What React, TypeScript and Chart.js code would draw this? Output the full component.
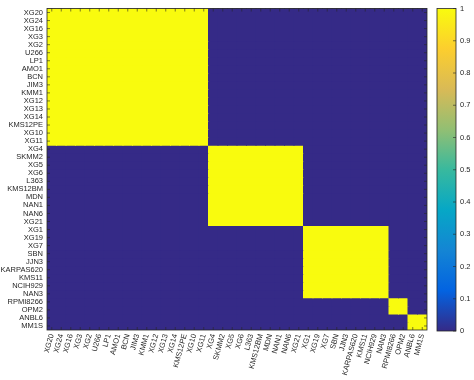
import React, { useEffect, useRef } from "react";
import { Chart, registerables } from "chart.js";

Chart.register(...registerables);

// Sample names (rows and columns, top-to-bottom / left-to-right)
const samples: string[] = [
  "XG20", "XG24", "XG16", "XG3", "XG2", "U266", "LP1", "AMO1", "BCN", "JIM3",
  "KMM1", "XG12", "XG13", "XG14", "KMS12PE", "XG10", "XG11",
  "XG4", "SKMM2", "XG5", "XG6", "L363", "KMS12BM", "MDN", "NAN1", "NAN6", "XG21",
  "XG1", "XG19", "XG7", "SBN", "JJN3", "KARPAS620", "KMS11", "NCIH929", "NAN3",
  "RPMI8266", "OPM2",
  "ANBL6", "MM1S",
];

// Cluster membership of each sample (consensus = 1 within a cluster, 0 otherwise)
const clusters: number[] = [
  1, 1, 1, 1, 1, 1, 1, 1, 1, 1, 1, 1, 1, 1, 1, 1, 1,
  2, 2, 2, 2, 2, 2, 2, 2, 2, 2,
  3, 3, 3, 3, 3, 3, 3, 3, 3,
  4, 4,
  5, 5,
];

// Colour bar ticks
const colorbarTicks: number[] = [0, 0.1, 0.2, 0.3, 0.4, 0.5, 0.6, 0.7, 0.8, 0.9, 1];

// Parula-like colormap stops
const parulaStops: [number, string][] = [
  [0, "#352a87"],
  [0.125, "#0363e1"],
  [0.25, "#1485d4"],
  [0.375, "#06a7c6"],
  [0.5, "#38b99e"],
  [0.625, "#92bf73"],
  [0.75, "#d9ba56"],
  [0.875, "#fcce2e"],
  [1, "#f9fb0e"],
];

const FONT = "'Liberation Sans', Arial, Helvetica, sans-serif";
const TXT = "#262626";

function hexToRgb(h: string) {
  const n = parseInt(h.slice(1), 16);
  return [(n >> 16) & 255, (n >> 8) & 255, n & 255];
}
function parula(v: number): string {
  for (let i = 1; i < parulaStops.length; i++) {
    const [t1, c1] = parulaStops[i];
    const [t0, c0] = parulaStops[i - 1];
    if (v <= t1) {
      const f = (v - t0) / (t1 - t0);
      const a = hexToRgb(c0), b = hexToRgb(c1);
      const r = a.map((x, k) => Math.round(x + (b[k] - x) * f));
      return `rgb(${r[0]},${r[1]},${r[2]})`;
    }
  }
  return parulaStops[parulaStops.length - 1][1];
}

const W = 474, H = 380;

export default function App() {
  const mainRef = useRef<HTMLCanvasElement>(null);
  const barRef = useRef<HTMLCanvasElement>(null);

  useEffect(() => {
    const n = samples.length;
    const matrix = samples.map((_, r) => samples.map((_, c) => (clusters[r] === clusters[c] ? 1 : 0)));

    const bgFill = {
      id: "bgFill",
      beforeDatasetsDraw(chart: any) {
        const { ctx, chartArea: a } = chart;
        ctx.save();
        ctx.fillStyle = parula(0);
        ctx.fillRect(a.left, a.top, a.right - a.left, a.bottom - a.top);
        ctx.restore();
      },
    };

    const inwardTicks = {
      id: "inwardTicks",
      afterDraw(chart: any) {
        const { ctx, chartArea: a, scales } = chart;
        const xs = scales.x, ys = scales.y;
        ctx.save();
        ctx.strokeStyle = TXT;
        ctx.lineWidth = 0.6;
        const L = 3;
        ctx.beginPath();
        for (let i = 0; i < xs.ticks.length; i++) {
          const px = xs.getPixelForTick(i);
          ctx.moveTo(px, a.bottom); ctx.lineTo(px, a.bottom - L);
          ctx.moveTo(px, a.top); ctx.lineTo(px, a.top + L);
        }
        for (let i = 0; i < ys.ticks.length; i++) {
          const py = ys.getPixelForValue(ys.ticks[i].value);
          ctx.moveTo(a.left, py); ctx.lineTo(a.left + L, py);
          ctx.moveTo(a.right, py); ctx.lineTo(a.right - L, py);
        }
        ctx.stroke();
        ctx.lineWidth = 0.8;
        ctx.strokeRect(a.left, a.top, a.right - a.left, a.bottom - a.top);
        ctx.restore();
      },
    };

    const main = new Chart(mainRef.current!, {
      type: "bar",
      data: {
        labels: samples,
        datasets: samples.map((_, r) => ({
          label: samples[r],
          data: samples.map(() => 1),
          backgroundColor: samples.map((_, c) => parula(matrix[r][c])),
          borderWidth: 0,
          inflateAmount: 0.5,
          barPercentage: 1,
          categoryPercentage: 1,
          stack: "s",
        })),
      },
      options: {
        animation: false,
        responsive: false,
        devicePixelRatio: 1,
        layout: { padding: { left: 0, top: 6, right: W - 427, bottom: 0 } },
        plugins: { legend: { display: false }, tooltip: { enabled: false } },
        scales: {
          x: {
            stacked: true,
            grid: { display: false, drawTicks: false },
            border: { display: false },
            ticks: {
              autoSkip: false,
              minRotation: 75,
              maxRotation: 75,
              padding: 3,
              color: TXT,
              font: { family: FONT, size: 7.5 },
            },
            afterFit: (s: any) => { s.height = H - 330; },
          },
          y: {
            type: "linear",
            stacked: true,
            min: 0,
            max: n,
            reverse: true,
            grid: { display: false, drawTicks: false },
            border: { display: false },
            afterBuildTicks: (s: any) => {
              s.ticks = samples.map((_, i) => ({ value: i + 0.5 }));
            },
            ticks: {
              autoSkip: false,
              padding: 4,
              color: TXT,
              font: { family: FONT, size: 7.5 },
              callback: (v: any) => samples[Math.floor(Number(v))] ?? "",
            },
            afterFit: (s: any) => { s.width = 47; },
          },
        },
      },
      plugins: [bgFill, inwardTicks],
    } as any);

    const cbTicks = {
      id: "cbTicks",
      afterDraw(chart: any) {
        const { ctx, chartArea: a, scales } = chart;
        const ys = scales.y;
        ctx.save();
        ctx.strokeStyle = TXT;
        ctx.lineWidth = 0.6;
        ctx.beginPath();
        colorbarTicks.forEach((t) => {
          const py = ys.getPixelForValue(t);
          ctx.moveTo(a.right, py); ctx.lineTo(a.right - 3, py);
        });
        ctx.stroke();
        ctx.lineWidth = 0.8;
        ctx.strokeRect(a.left, a.top, a.right - a.left, a.bottom - a.top);
        ctx.restore();
      },
    };

    const cb = new Chart(barRef.current!, {
      type: "bar",
      data: {
        labels: ["c"],
        datasets: [
          {
            data: [[0, 1]],
            barPercentage: 1,
            categoryPercentage: 1,
            borderWidth: 0,
            backgroundColor: (c: any) => {
              const ch = c.chart;
              const ys = ch.scales?.y;
              if (!ch.chartArea || !ys) return parulaStops[0][1];
              const g = ch.ctx.createLinearGradient(0, ys.getPixelForValue(0), 0, ys.getPixelForValue(1));
              parulaStops.forEach(([t, col]) => g.addColorStop(t, col));
              return g;
            },
          },
        ],
      },
      options: {
        animation: false,
        responsive: false,
        devicePixelRatio: 1,
        layout: { padding: { left: 7, top: 7, right: 0, bottom: H - 331 } },
        plugins: { legend: { display: false }, tooltip: { enabled: false } },
        scales: {
          x: { display: false },
          y: {
            position: "right",
            min: 0,
            max: 1,
            grid: { display: false, drawTicks: false },
            border: { display: false },
            afterBuildTicks: (s: any) => {
              s.ticks = colorbarTicks.map((v) => ({ value: v }));
            },
            ticks: {
              autoSkip: false,
              padding: 4,
              color: TXT,
              font: { family: FONT, size: 7.5 },
              callback: (v: any) => String(Math.round(Number(v) * 10) / 10),
            },
            afterFit: (s: any) => { s.width = 44 - 26; },
          },
        },
      },
      plugins: [cbTicks],
    } as any);

    return () => {
      main.destroy();
      cb.destroy();
    };
  }, []);

  return (
    <div style={{ position: "fixed", left: 0, top: 0, width: W, height: H, background: "#fff" }}>
      <canvas
        ref={mainRef}
        width={W}
        height={H}
        style={{ position: "absolute", left: 0, top: 0, width: W, height: H }}
      />
      <canvas
        ref={barRef}
        width={44}
        height={H}
        style={{ position: "absolute", left: 430, top: 0, width: 44, height: H }}
      />
    </div>
  );
}
